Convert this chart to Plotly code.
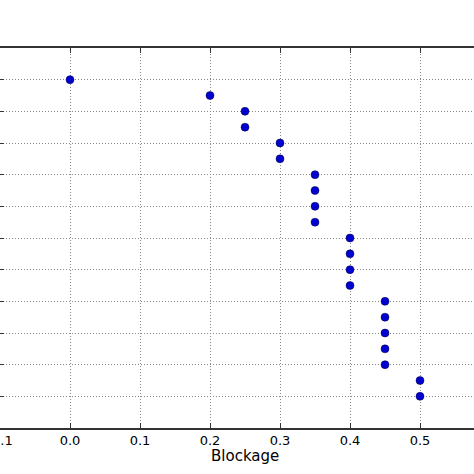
import plotly.graph_objects as go

blockage = [0.0, 0.2, 0.25, 0.25, 0.3, 0.3, 0.35, 0.35, 0.35, 0.35,
            0.4, 0.4, 0.4, 0.4, 0.45, 0.45, 0.45, 0.45, 0.45, 0.5, 0.5]
rank = list(range(20, -1, -1))

x_ticks = [-0.1, 0.0, 0.1, 0.2, 0.3, 0.4, 0.5]
x_ticktext = ["-0.1", "0.0", "0.1", "0.2", "0.3", "0.4", "0.5"]
y_ticks = [0, 2, 4, 6, 8, 10, 12, 14, 16, 18, 20]

fig = go.Figure()
fig.add_trace(go.Scatter(
    x=blockage, y=rank, mode="markers",
    marker=dict(size=8, color="#0000d0", line=dict(color="#000040", width=0.5)),
    showlegend=False, cliponaxis=False,
))

fig.update_layout(
    width=474, height=474,
    margin=dict(l=0, r=0, t=48, b=46, autoexpand=False),
    paper_bgcolor="white", plot_bgcolor="white",
    font=dict(family="DejaVu Sans", size=12, color="black"),
    xaxis=dict(
        range=[-0.1, -0.1 + 474 / 700], tickvals=x_ticks, ticktext=x_ticktext,
        showline=True, linecolor="#333", linewidth=1.5, mirror="ticks",
        ticks="inside", ticklen=5, tickcolor="#333",
        showgrid=True, gridcolor="#888", griddash="1px,2px", gridwidth=1,
        zeroline=False, automargin=False,
        tickfont=dict(size=13), ticklabeloverflow="allow",
    ),
    yaxis=dict(
        range=[-2, 22], tickvals=y_ticks, showticklabels=False,
        showline=True, linecolor="#bbb", linewidth=3,
        ticks="inside", ticklen=4, tickcolor="#333",
        showgrid=True, gridcolor="#888", griddash="1px,2px", gridwidth=1,
        zeroline=False, automargin=False,
    ),
    annotations=[dict(
        text="Blockage", x=0.25, xref="x", y=0, yref="paper",
        yanchor="middle", yshift=-28, showarrow=False,
        font=dict(family="DejaVu Sans", size=15, color="black"),
    )],
)

fig.write_html("out.html", config={"displayModeBar": False},
               post_script="document.body.style.margin='0px';")
